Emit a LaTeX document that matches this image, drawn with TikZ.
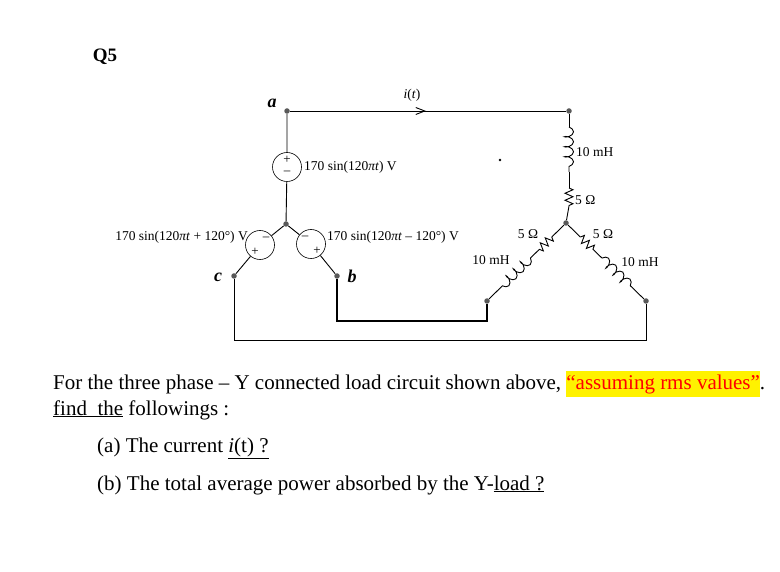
\documentclass[tikz,border=0pt]{standalone}
\usepackage{fontspec}
\setmainfont{Liberation Serif}
\usetikzlibrary{decorations.pathmorphing,calc,arrows.meta}
\begin{document}
\begin{tikzpicture}[x=1pt,y=-1pt,
  wire/.style={line width=0.9pt},
  thick wire/.style={line width=1.8pt},
  term/.style={circle,fill=black!65,inner sep=0pt,minimum size=5.5pt},
  src/.style={circle,draw,line width=0.6pt,minimum size=29pt,inner sep=0pt,fill=white},
  lbl/.style={font=\fontsize{13.5}{15}\selectfont,inner sep=1pt},
  sgn/.style={font=\fontsize{13}{13}\selectfont,inner sep=0pt},
  coilst/.style={decorate,decoration={coil,aspect=0.5,amplitude=4.5pt,segment length=10pt}},
  resst/.style={decorate,decoration={zigzag,amplitude=4pt,segment length=7pt}},
  txt/.style={anchor=base west,inner sep=0pt,font=\fontsize{21}{24}\selectfont}]
\useasboundingbox (0,0) rectangle (780,572);
\node[font=\bfseries\fontsize{19}{20}\selectfont] (q) at (105,57) {Q5};
% nodes
\node[term] (a) at (287,111) {};
\node[term] (n) at (286,224) {};
\node[term] (c) at (234,276) {};
\node[term] (b) at (337,276) {};
\node[term] (ta) at (569,111) {};
\node[term] (C) at (566,223) {};
\node[term] (L) at (487,301) {};
\node[term] (R) at (646,301) {};
\node[src] (sa) at (287,167) {};
\node[src] (sc) at (260,245) {};
\node[src] (sb) at (311,244) {};
\node[sgn] at (287,160) {+};
\node[sgn] at (287,173) {–};
\node[sgn] at (266,239) {–};
\node[sgn] at (255,252) {+};
\node[sgn] at (305,238) {–};
\node[sgn] at (317,251) {+};
\coordinate (bb) at (337,321);
\coordinate (lb) at (487,321);
\coordinate (cb) at (234,340);
\coordinate (rb) at (646,340);
% wires
\draw[wire] (a) -- (ta);
\draw[-{Straight Barb[length=9pt,width=7pt]},line width=0.9pt] (400,111) -- (426,111);
\draw[wire] (a) -- (sa) -- (n);
\draw[wire] (n) -- (sc) -- (c);
\draw[wire] (n) -- (sb) -- (b);
\draw[thick wire] (b) -- (bb) -- (lb) -- (L);
\draw[wire] (c) -- (cb) -- (rb) -- (R);
% load top leg
\draw[wire] (ta) -- (569,127);
\draw[wire,coilst] (569,127) -- (569,172);
\draw[wire] (569,172) -- (569,188);
\draw[wire,resst] (569,188) -- (569,206);
\draw[wire] (569,206) -- (C);
% left leg
\draw[wire] (C) -- ($(C)!0.18!(L)$);
\draw[wire,resst] ($(C)!0.18!(L)$) -- ($(C)!0.36!(L)$);
\draw[wire] ($(C)!0.36!(L)$) -- ($(C)!0.45!(L)$);
\draw[wire,coilst] ($(C)!0.45!(L)$) -- ($(C)!0.85!(L)$);
\draw[wire] ($(C)!0.85!(L)$) -- (L);
% right leg
\draw[wire] (C) -- ($(C)!0.18!(R)$);
\draw[wire,resst] ($(C)!0.18!(R)$) -- ($(C)!0.36!(R)$);
\draw[wire] ($(C)!0.36!(R)$) -- ($(C)!0.45!(R)$);
\draw[wire,coilst] ($(C)!0.45!(R)$) -- ($(C)!0.85!(R)$);
\draw[wire] ($(C)!0.85!(R)$) -- (R);
\fill (500,160) circle (1.4pt);
% labels
\node[font=\bfseries\itshape\fontsize{18}{18}\selectfont] at (272,103) {a};
\node[font=\bfseries\itshape\fontsize{18}{18}\selectfont] at (218,277) {c};
\node[font=\bfseries\itshape\fontsize{18}{18}\selectfont] at (352,276) {b};
\node[lbl] at (412,95) {\textit{i}(\textit{t})};
\node[lbl,anchor=west] at (303,167) {170 sin(120\textit{πt}) V};
\node[lbl,anchor=east] at (249,237) {170 sin(120\textit{πt} + 120°) V};
\node[lbl,anchor=west] at (326,237) {170 sin(120\textit{πt} – 120°) V};
\node[lbl,anchor=west] at (575,152) {10 mH};
\node[lbl,anchor=west] at (574,200) {5 Ω};
\node[lbl] at (528,234) {5 Ω};
\node[lbl] at (603,234) {5 Ω};
\node[lbl] at (491,260) {10 mH};
\node[lbl] at (640,262) {10 mH};
% text
\node[txt] at (53,389) {For the three phase – Y connected load circuit shown above, \colorbox{yellow}{\kern-3pt\textcolor{red}{“assuming rms values”}\kern-3pt}.};
\node[txt] at (53,415) {\underline{find\ \ the} followings :};
\node[txt] at (97,452) {(a) The current \underline{\textit{i}(t) ?}};
\node[txt] at (97,490) {(b) The total average power absorbed by the Y-\underline{load ?}};
\end{tikzpicture}
\end{document}
